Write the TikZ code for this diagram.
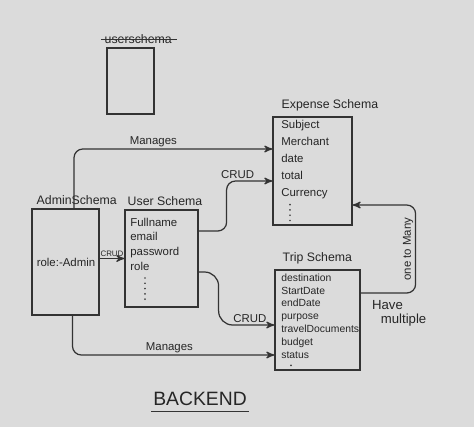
\documentclass[tikz,border=0pt]{standalone}
\usepackage{fontspec}
\setmainfont{Liberation Sans}
\usetikzlibrary{arrows,chains,positioning,fit}

\begin{document}
\begin{tikzpicture}[%
    x=0.02cm, y=-0.02cm,        % one unit is one pixel of the sketch
    >=stealth',                 % open-ish arrows, like the pencil ones
    node distance=1mm,
    ]
% -------------------------------------------------
% Styles for boxes, titles, fields and connectors
\tikzset{
  ink/.style={draw=black!80, line width=0.7pt},
  box/.style={ink, inner sep=0pt},
  title/.style={inner sep=0pt, text=black!85, font=\fontsize{7}{8}\selectfont},
  lbl/.style={inner sep=1pt, text=black!85, font=\fontsize{6.5}{7}\selectfont},
  item/.style={on chain, inner sep=0pt, text=black!85, text width=1.8cm,
    align=left, text height=5pt, text depth=1.5pt, font=\fontsize{6.5}{7}\selectfont},
  link/.style={ink, ->, rounded corners=5pt},
  dotline/.style={draw=black!75, line width=1pt, line cap=round, dash pattern=on 0.01pt off 3pt},
}
% paper
\fill[black!14] (0,0) rectangle (474,427);
\useasboundingbox (0,0) rectangle (474,427);
% -------------------------------------------------
% The schema boxes
\node[box, fit={(107,48) (154,114)}] (usr) {};
\node[box, fit={(273,117) (352,225)}] (exp) {};
\node[box, fit={(32,209) (99,315)}] (admin) {};
\node[box, fit={(125,210) (198,307)}] (user) {};
\node[box, fit={(275,270) (360,370)}] (trip) {};

% titles sit just above each box
\node[title, above right=0.06cm and -0.04cm of usr.north west] (usrname) {userschema};
\draw[ink] ([xshift=-2pt]usrname.west) -- ([xshift=3pt]usrname.east); % struck out
\node[title, above right=0.1cm and 0.18cm of exp.north west] (expname) {Expense Schema};
\node[title, above right=0.06cm and 0.1cm of admin.north west] (adminname) {AdminSchema};
\node[title, above right=0.06cm and 0.06cm of user.north west] (username) {User Schema};
\node[title, above right=0.1cm and 0.16cm of trip.north west] (tripname) {Trip Schema};

\node[lbl] (role) at (66,262) {role:-Admin};

% -------------------------------------------------
% Fields, one chain per box
\begin{scope}[start chain=going below, node distance=0.1cm]
\node[item, anchor=north west] (e1) at (281,119) {Subject};
\node[item] (e2) {Merchant};
\node[item] (e3) {date};
\node[item] (e4) {total};
\node[item] (e5) {Currency};
\end{scope}
\draw[dotline] ([xshift=0.18cm, yshift=-0.1cm]e5.south west) -- ++(0,-0.42cm);

\begin{scope}[start chain=going below, node distance=0.05cm]
\node[item, anchor=north west] (u1) at (130,217) {Fullname};
\node[item] (u2) {email};
\node[item] (u3) {password};
\node[item] (u4) {role};
\end{scope}
\draw[dotline] ([xshift=0.3cm, yshift=-0.1cm]u4.south west) -- ++(0,-0.5cm);

\begin{scope}[start chain=going below, node distance=0.015cm,
    item/.append style={font=\fontsize{5.9}{7}\selectfont}]
\node[item, anchor=north west] (t1) at (281,272) {destination};
\node[item] (t2) {StartDate};
\node[item] (t3) {endDate};
\node[item] (t4) {purpose};
\node[item] (t5) {travelDocuments};
\node[item] (t6) {budget};
\node[item] (t7) {status};
\end{scope}
\draw[dotline] ([xshift=0.2cm, yshift=-0.08cm]t7.south west) -- ++(0,-0.1cm);

% -------------------------------------------------
% Connectors
\draw[link] ([xshift=0.17cm]admin.north) |- node[lbl, above, pos=0.7] {Manages} ([yshift=0.44cm]exp.west);
\draw[link] ([xshift=0.14cm]admin.south) |- node[lbl, above=0pt, pos=0.74] {Manages} ([yshift=-0.7cm]trip.west);
\draw[link] (admin.east |- user.west) -- node[lbl, above, font=\fontsize{4.5}{5}\selectfont] {CRUD} (user.west);
\draw[link] ([yshift=0.55cm]user.east) -- ++(0.56cm,0) |- node[lbl, above, pos=0.62] {CRUD} ([yshift=-0.2cm]exp.west);
\draw[link, rounded corners=8pt] ([yshift=-0.27cm]user.east) -- ++(0.4cm,0) |- node[lbl, above, pos=0.78] {CRUD} ([yshift=-0.1cm]trip.west);
\draw[link] ([yshift=0.54cm]trip.east) -- ++(1.1cm,0) |- node[lbl, pos=0.25, rotate=90, anchor=south] {one to Many} ([yshift=-0.68cm]exp.east);

\node[lbl, anchor=north west, align=left, font=\fontsize{7.5}{8}\selectfont] (multi) at (370,298) {Have\\\hspace{5pt}multiple};

% -------------------------------------------------
\node[inner sep=1pt, text=black!85, font=\fontsize{11}{13}\selectfont] (bk) at (200,399) {BACKEND};
\draw[ink, line width=0.9pt] ([yshift=-2pt]bk.south west) -- ([yshift=-2pt]bk.south east);
\end{tikzpicture}
\end{document}
